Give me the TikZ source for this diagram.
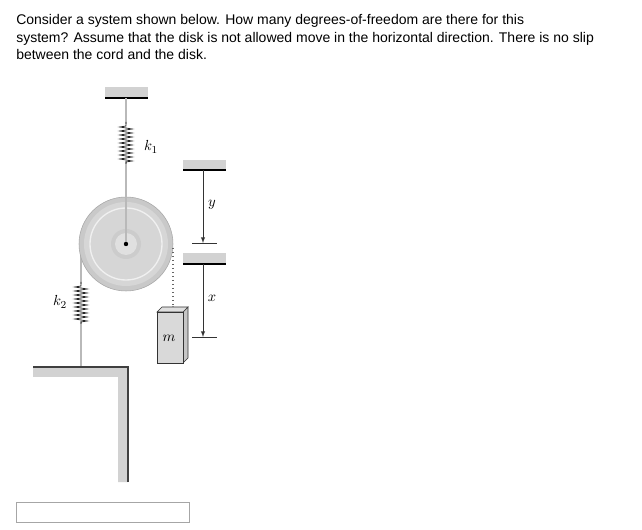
\documentclass[tikz,border=0pt]{standalone}
\usepackage{fontspec}
\setmainfont{Liberation Sans}
\newfontfamily\serifit{Liberation Serif}
\begin{document}
\begin{tikzpicture}[x=0.75pt,y=-0.75pt,
  gbar/.style={fill=gray!35,draw=none},
  rope/.style={draw=gray!55,line width=1.4pt},
  lbl/.style={font=\serifit\itshape\fontsize{11}{12}\selectfont},
  txt/.style={anchor=base west,inner sep=0pt,font=\fontsize{10.5}{12}\selectfont},
  dim/.style={draw=black!80,line width=0.5pt},
  coilspring/.style={draw=black!85,line width=0.6pt}]
\useasboundingbox (0,0) rectangle (642,530);
\node[txt] (l1) at (16,25) {Consider a system shown below. How many degrees-of-freedom are there for this};
\node[txt] (l2) at (16,43) {system? Assume that the disk is not allowed move in the horizontal direction. There is no slip};
\node[txt] (l3) at (16,60) {between the cord and the disk.};
% top ceiling
\fill[gbar] (105,87) rectangle (148,98);
\draw[line width=0.8pt] (105,98) -- (148,98);
% ropes
\draw[rope] (126,98) -- (126,244);
\draw[rope] (81,244) -- (81,367);
% disk
\node[circle,minimum size=70.5pt,fill=gray!42,draw=gray!70,inner sep=0] (disk) at (126,244) {};
\fill[gray!32] (126,244) circle (42);
\draw[white!60!gray!30,line width=1pt] (126,244) circle (36);
\fill[gray!40] (126,244) circle (15);
\fill[gray!24] (126,244) circle (11);
\draw[rope] (126,160) -- (126,244);
\fill (126,244) circle (2.2);
% spring k1
\fill[white] (120,124) rectangle (132,161);
\draw[coilspring] (126,122) -- (126,126) \foreach \i in {0,...,8}{ -- (120,127+4*\i) -- (132,129+4*\i)} -- (126,162) -- (126,164);
\node[lbl] (k1) at (151,147) {$k_1$};
% spring k2
\fill[white] (75,284) rectangle (87,321);
\draw[coilspring] (81,282) -- (81,286) \foreach \i in {0,...,8}{ -- (75,287+4*\i) -- (87,289+4*\i)} -- (81,322) -- (81,324);
\node[lbl] (k2) at (60,302) {$k_2$};
% chain to mass
\draw[black!60,dotted,line width=1pt] (173,248) -- (173,307);
\draw[black!70] (173,308) circle (1.5);
% mass
\fill[gray!45,draw=black!80,line width=0.4pt] (183,312) -- (188,307) -- (188,358) -- (183,363) -- cycle;
\fill[gray!25,draw=black!80,line width=0.4pt] (157,312) -- (162,307) -- (188,307) -- (183,312) -- cycle;
\node[draw=black!80,fill=gray!30,line width=0.4pt,minimum width=19.5pt,minimum height=38.25pt,inner sep=0,anchor=north west] (m) at (157,312) {};
\node[lbl] (ml) at (169,338) {$m$};
% right dimension
\fill[gbar] (183,160) rectangle (226,170);
\draw[line width=0.8pt] (183,170) -- (226,170);
\coordinate (ya) at (203,170); \coordinate (yb) at (203,243);
\draw[dim,-latex] (ya) -- (yb);
\draw[dim] (192,243) -- (217,243);
\node[lbl] (y) at (212,205) {$y$};
\fill[gbar] (183,253) rectangle (226,264);
\draw[line width=0.8pt] (183,264) -- (226,264);
\coordinate (xa) at (203,264); \coordinate (xb) at (203,337);
\draw[dim,-latex] (xa) -- (xb);
\draw[dim] (192,337) -- (217,337);
\node[lbl] (x) at (212,298) {$x$};
% floor
\fill[gbar] (33,367) -- (128,367) -- (128,482) -- (118,482) -- (118,377) -- (33,377) -- cycle;
\draw[black!75,line width=0.8pt] (33,367) -- (128,367) -- (128,482);
% answer box
\draw[gray!70,line width=0.6pt] (16,502) rectangle (189,522);
\end{tikzpicture}
\end{document}
